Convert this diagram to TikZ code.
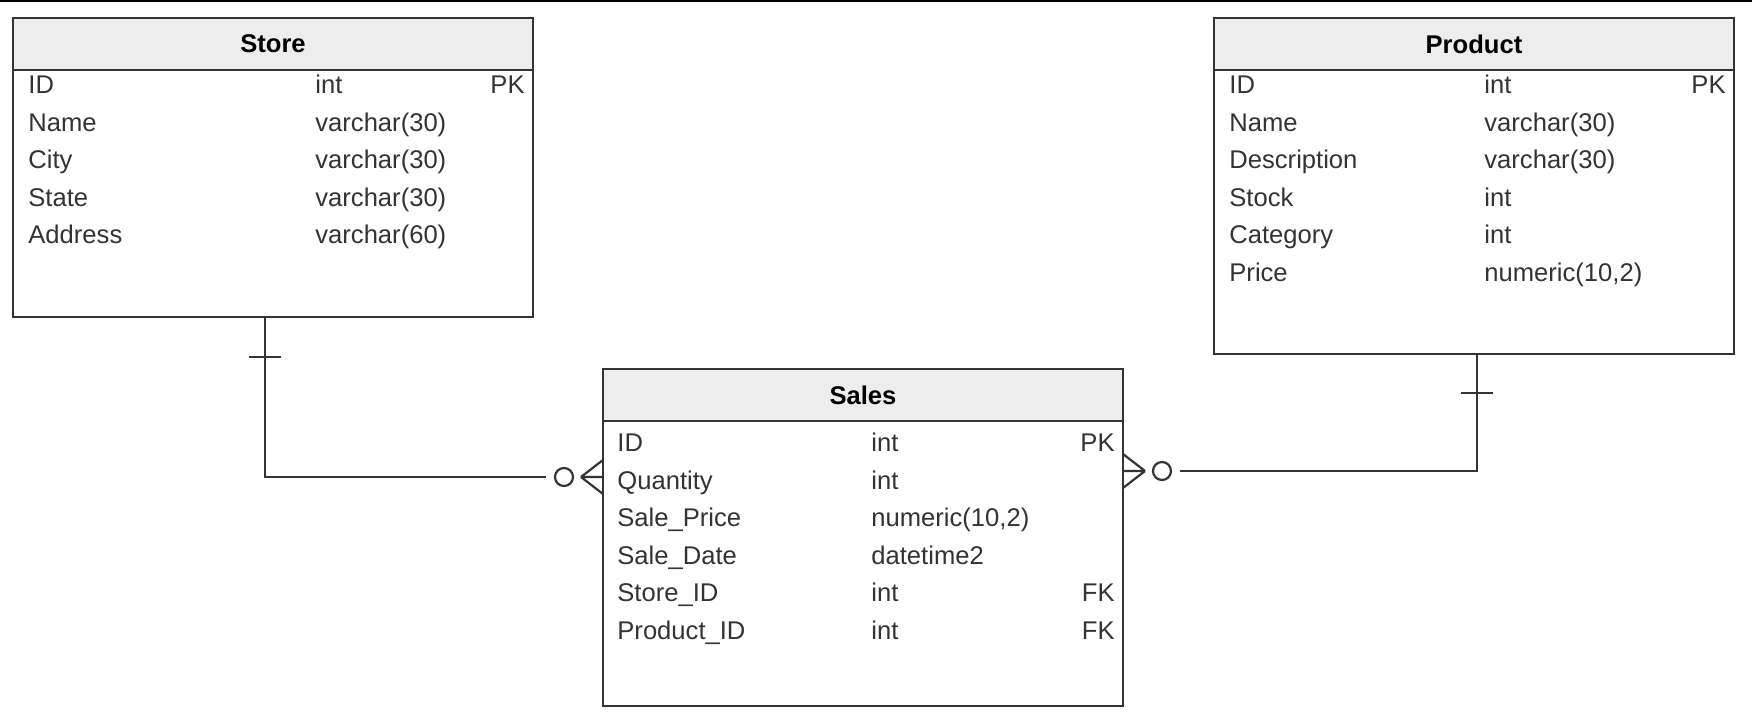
\documentclass[tikz,border=0pt]{standalone}
\usepackage{fontspec}
\setmainfont{Liberation Sans}
\begin{document}
\begin{tikzpicture}[x=0.5pt,y=-0.5pt,
  tbl/.style={draw=black!80,line width=1.2pt},
  hdr/.style={fill=black!7,draw=black!80,line width=1.2pt},
  ttl/.style={font=\fontsize{12.8}{14}\selectfont\bfseries},
  fld/.style={font=\fontsize{12.8}{14}\selectfont,text=black!80,inner sep=0pt,anchor=base west},
  key/.style={font=\fontsize{12.8}{14}\selectfont,text=black!80,inner sep=0pt,anchor=base east},
  conn/.style={draw=black!80,line width=1.1pt}]
\useasboundingbox (0,0) rectangle (1752,716);
\draw[line width=1.5pt] (0,1) -- (1752,1);
% tables
\newcommand\mytable[8]{%
  \filldraw[hdr] (#1,#2) rectangle (#3,#5);
  \draw[tbl] (#1,#2) rectangle (#3,#4);
  \node[ttl] (#6) at ({(#1+#3)/2},{(#2+#5)/2}) {#7};}
\mytable{13}{18}{533}{317}{70}{store}{Store}{}
\mytable{1214}{18}{1734}{354}{70}{product}{Product}{}
\mytable{603}{369}{1123}{706}{421}{sales}{Sales}{}
\coordinate (storeB) at (265,317);
\coordinate (prodB) at (1477,354);
% store rows
\foreach \n/\t [count=\i from 0] in {ID/int,Name/varchar(30),City/varchar(30),State/varchar(30),Address/varchar(60)}{
  \node[fld] (sn\i) at (28,{94+\i*37.5}) {\n};
  \node[fld] (st\i) at (315,{94+\i*37.5}) {\t};}
\node[key] (spk) at (525,94) {PK};
\foreach \n/\t [count=\i from 0] in {ID/int,Name/varchar(30),Description/varchar(30),Stock/int,Category/int,Price/numeric(10{,}2)}{
  \node[fld] (pn\i) at (1229,{94+\i*37.5}) {\n};
  \node[fld] (pt\i) at (1484,{94+\i*37.5}) {\t};}
\node[key] (ppk) at (1726,94) {PK};
\foreach \n/\t [count=\i from 0] in {ID/int,Quantity/int,Sale\_Price/numeric(10{,}2),Sale\_Date/datetime2,Store\_ID/int,Product\_ID/int}{
  \node[fld] (xn\i) at (617,{452+\i*37.5}) {\n};
  \node[fld] (xt\i) at (871,{452+\i*37.5}) {\t};}
\node[key] (xpk) at (1115,452) {PK};
\node[key] (xfk1) at (1115,602) {FK};
\node[key] (xfk2) at (1115,639.5) {FK};
% connector store - sales
\coordinate (lc) at (564,477);
\coordinate (rc) at (1162,471);
\draw[conn] (storeB) -- (265,477) -- ([xshift=-9]lc);
\draw[conn] (249,357) -- (281,357);
\draw[conn] (lc) circle[radius=9];
\draw[conn] ([xshift=9]lc) -- (603,477) (581,477) -- (603,460) (581,477) -- (603,494);
% connector product - sales
\draw[conn] (prodB) -- (1477,471) -- ([xshift=9]rc);
\draw[conn] (1461,393) -- (1493,393);
\draw[conn] (rc) circle[radius=9];
\draw[conn] ([xshift=-9]rc) -- (1123,471) (1145,471) -- (1123,454) (1145,471) -- (1123,488);
\end{tikzpicture}
\end{document}
